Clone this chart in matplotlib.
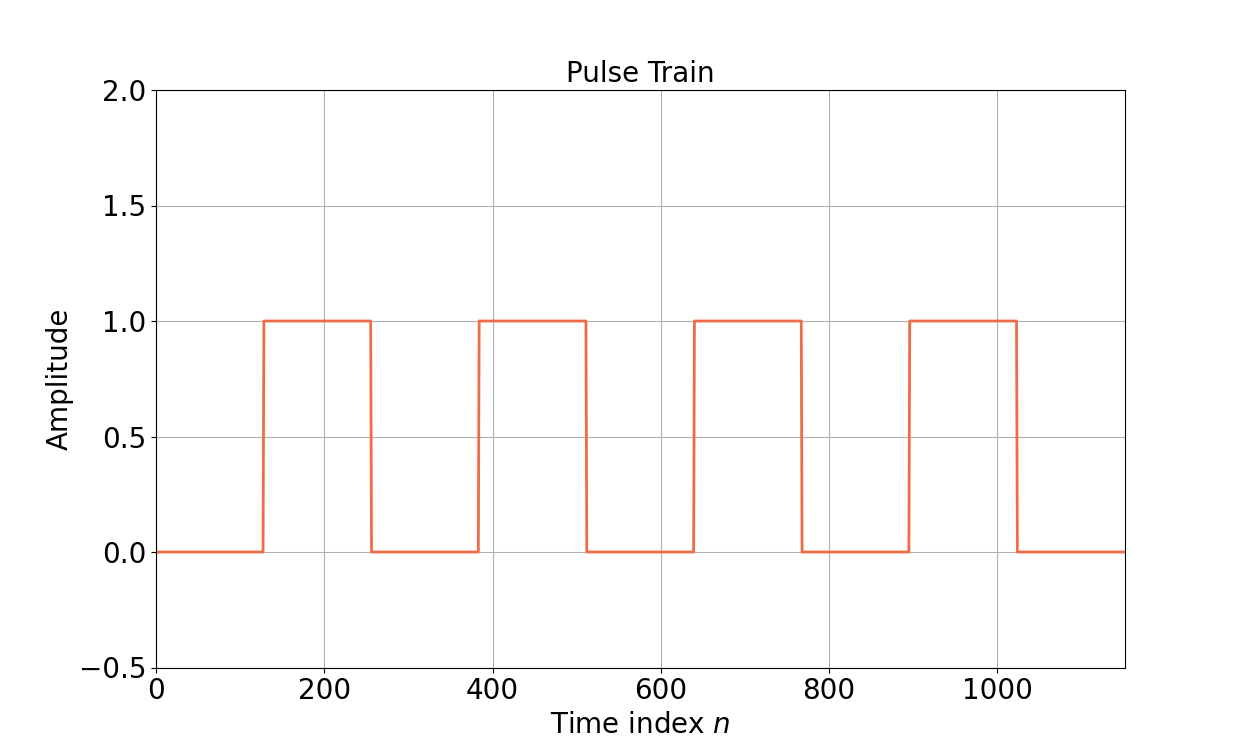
import matplotlib
matplotlib.use("Agg")
import matplotlib.pyplot as plt

# corner points of the pulse train (sample index, amplitude)
n_points = [0, 127, 128, 255, 256, 383, 384, 511, 512, 639, 640, 767,
            768, 895, 896, 1023, 1024, 1151]
amplitude = [0, 0, 1, 1, 0, 0, 1, 1, 0, 0, 1, 1,
             0, 0, 1, 1, 0, 0]

plt.rcParams['font.size'] = 20

fig, ax = plt.subplots(figsize=(12.5, 7.5), dpi=100)
ax.plot(n_points, amplitude, color='#EE6C47', lw=2)
ax.set_xlim(0, 1152)
ax.set_ylim(-0.5, 2.0)
ax.set_title('Pulse Train', fontsize=20)
ax.set_xlabel('Time index $n$')
ax.set_ylabel('Amplitude')
ax.grid(True)

fig.savefig('out.png')
